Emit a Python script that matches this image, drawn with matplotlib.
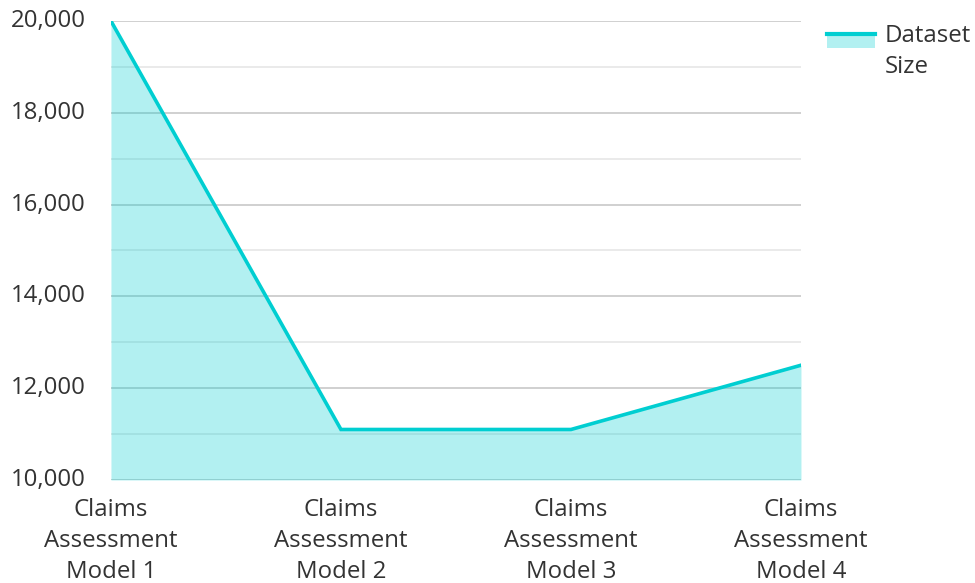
import matplotlib.pyplot as plt
from matplotlib.lines import Line2D
from matplotlib.patches import Patch, Rectangle
from matplotlib.legend_handler import HandlerBase
from matplotlib.ticker import MultipleLocator, StrMethodFormatter

# data
models = ['Claims\nAssessment\nModel 1', 'Claims\nAssessment\nModel 2',
          'Claims\nAssessment\nModel 3', 'Claims\nAssessment\nModel 4']
dataset_size = [20000, 11100, 11100, 12500]

line_color = '#00CED1'
text_color = '#333333'
fsize = 17.3

plt.rcParams['font.family'] = ['Open Sans', 'DejaVu Sans']


class AreaHandler(HandlerBase):
    # filled box with the line along its top edge, raised to the first text line
    def create_artists(self, legend, orig_handle, xdescent, ydescent,
                       width, height, fontsize, trans):
        dy = self.lift
        box = Rectangle((-xdescent, -ydescent + dy), width, height,
                        facecolor=line_color, alpha=0.3, edgecolor='none',
                        transform=trans)
        top = Line2D([-xdescent, -xdescent + width],
                     [-ydescent + dy + height, -ydescent + dy + height],
                     color=line_color, lw=3, transform=trans)
        return [box, top]


fig = plt.figure(figsize=(9.75, 5.83), dpi=100)
ax = fig.add_axes([0.1138, 0.1767, 0.7077, 0.7873])

x = list(range(len(models)))
ax.fill_between(x, 10000, dataset_size, color=line_color, alpha=0.3,
                linewidth=0, zorder=2)
ax.plot(x, dataset_size, color=line_color, lw=2.6, zorder=3,
        solid_joinstyle='miter')

ax.set_xlim(0, 3)
ax.set_ylim(10000, 20000)
ax.yaxis.set_major_locator(MultipleLocator(2000))
ax.yaxis.set_minor_locator(MultipleLocator(1000))
ax.yaxis.set_major_formatter(StrMethodFormatter('{x:,.0f}'))
ax.grid(axis='y', which='major', color='#c8c8c8', lw=1.2, zorder=1)
ax.grid(axis='y', which='minor', color='#e6e6e6', lw=1.2, zorder=1)
ax.set_axisbelow(True)

ax.set_xticks(x)
ax.set_xticklabels(models, linespacing=1.4)
ax.tick_params(axis='both', which='both', length=0, labelsize=fsize,
               colors=text_color)
ax.tick_params(axis='x', pad=13)
ax.tick_params(axis='y', pad=18)
for lbl in ax.get_yticklabels():
    lbl.set_verticalalignment('center')
for s in ax.spines.values():
    s.set_visible(False)

handler = AreaHandler()
handler.lift = 8
leg = fig.legend([Patch()], ['Dataset\nSize'], handler_map={Patch: handler},
                 loc='upper left', bbox_to_anchor=(0.843, 0.967), frameon=False,
                 fontsize=fsize, labelcolor=text_color, handlelength=2.0,
                 handleheight=0.5, handletextpad=0.42, borderpad=0.2,
                 borderaxespad=0)
leg.get_texts()[0].set_linespacing(1.38)

fig.savefig('out.png', dpi=100)
